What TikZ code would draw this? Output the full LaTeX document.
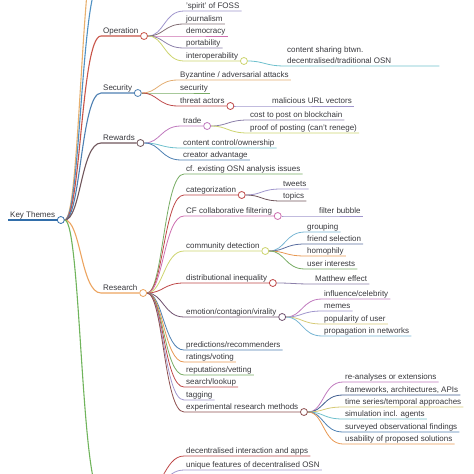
\documentclass[tikz,border=0pt]{standalone}
\usepackage{fontspec}
\setmainfont{Liberation Sans}
\usetikzlibrary{positioning,backgrounds}
\usepackage{xcolor}
\definecolor{inkgray}{RGB}{55,55,60}
\definecolor{rootblue}{RGB}{50,110,170}
\definecolor{topblue}{RGB}{80,145,195}
\definecolor{toporange}{RGB}{232,176,110}
\definecolor{opred}{RGB}{200,84,72}
\definecolor{secblue}{RGB}{78,128,178}
\definecolor{rewbrown}{RGB}{112,86,92}
\definecolor{resorange}{RGB}{236,164,96}
\definecolor{lowgreen}{RGB}{112,180,92}
\definecolor{lavender}{RGB}{160,150,205}
\definecolor{mauve}{RGB}{132,112,118}
\definecolor{pinkish}{RGB}{205,110,175}
\definecolor{greypurple}{RGB}{140,128,170}
\definecolor{limeyellow}{RGB}{205,212,110}
\definecolor{tealish}{RGB}{110,192,205}
\definecolor{tanorange}{RGB}{226,172,112}
\definecolor{leafgreen}{RGB}{120,172,100}
\definecolor{brickred}{RGB}{190,72,72}
\definecolor{slateblue}{RGB}{90,110,160}
\definecolor{skyblue}{RGB}{120,182,212}
\definecolor{darkplum}{RGB}{112,82,112}
\definecolor{rosepurple}{RGB}{192,122,190}
\definecolor{khaki}{RGB}{214,202,118}
\definecolor{navyish}{RGB}{62,92,142}
\definecolor{darkbrick}{RGB}{142,80,80}
\definecolor{orangeish}{RGB}{232,152,82}

\tikzset{
  leaf/.style={anchor=south west,inner xsep=2pt,inner ysep=1pt,text depth=1.8pt,
               font=\fontsize{8}{10.5}\selectfont,text=inkgray},
  dot/.style={circle,draw=#1,fill=white,line width=0.8pt,minimum size=7pt,inner sep=0pt},
  branch/.style={to path={.. controls +(#1,0) and +(-#1,0) .. (\tikztotarget)}},
  branch/.default=20,
  trunk/.style={draw=#1,line width=2.4pt},
  limb/.style={draw=#1,line width=1.1pt},
  twig/.style={draw=#1,line width=0.8pt},
}

\begin{document}
\begin{tikzpicture}[x=1pt,y=-1pt]
  \useasboundingbox (0,0) rectangle (474,474);
  \clip (0,0) rectangle (474,474);

  % root
  \node[leaf] (keyth) at (8,220) {Key Themes};
  \node[dot=rootblue] (keythdot) at ([xshift=3.5pt]keyth.south east) {};

  % neighbours outside the page
  \coordinate (upperA) at (101,-75);
  \coordinate (upperB) at (101,-20);
  \coordinate (lowerA) at (101,495);
  \coordinate (lowerAdot) at (142,495);

  % main topics
  \node[leaf] (oper) at (101,36) {Operation};
  \node[dot=opred] (operdot) at ([xshift=3.5pt]oper.south east) {};
  \node[leaf] (secur) at (101,93) {Security};
  \node[dot=secblue] (securdot) at ([xshift=3.5pt]secur.south east) {};
  \node[leaf] (rewar) at (101,143) {Rewards};
  \node[dot=rewbrown] (rewardot) at ([xshift=3.5pt]rewar.south east) {};
  \node[leaf] (resea) at (101,293) {Research};
  \node[dot=resorange] (reseadot) at ([xshift=3.5pt]resea.south east) {};

  % operation
  \node[leaf] (spirit) at (184,11) {'spirit' of FOSS};
  \node[leaf] (journ) at (184,24) {journalism};
  \node[leaf] (democ) at (184,36) {democracy};
  \node[leaf] (porta) at (184,48) {portability};
  \node[leaf] (inter) at (184,61) {interoperability};
  \node[dot=limeyellow] (interdot) at ([xshift=3.5pt]inter.south east) {};
  \node[leaf] (share) at (285,66)
    {\parbox[b]{150pt}{content sharing btwn.\\decentralised/traditional OSN}};

  % security
  \node[leaf] (byzan) at (178,80) {Byzantine / adversarial attacks};
  \node[leaf] (secu) at (178,93) {security};
  \node[leaf] (threat) at (178,106) {threat actors};
  \node[dot=brickred] (threatdot) at ([xshift=3.5pt]threat.south east) {};
  \node[leaf] (malic) at (270,106) {malicious URL vectors};

  % rewards
  \node[leaf] (trade) at (181,126) {trade};
  \node[dot=rosepurple] (tradedot) at ([xshift=3.5pt]trade.south east) {};
  \node[leaf] (cost) at (248,120) {cost to post on blockchain};
  \node[leaf] (proof) at (248,133) {proof of posting (can't renege)};
  \node[leaf] (contr) at (181,148) {content control/ownership};
  \node[leaf] (creat) at (181,160) {creator advantage};

  % research
  \node[leaf] (cfexi) at (184,174) {cf. existing OSN analysis issues};
  \node[leaf] (categ) at (184,195) {categorization};
  \node[dot=brickred] (categdot) at ([xshift=3.5pt]categ.south east) {};
  \node[leaf] (tweet) at (281,189) {tweets};
  \node[leaf] (topic) at (281,201) {topics};
  \node[leaf] (cfcol) at (184,216) {CF collaborative filtering};
  \node[dot=pinkish] (cfcoldot) at ([xshift=3.5pt]cfcol.south east) {};
  \node[leaf] (bubble) at (317,216) {filter bubble};
  \node[leaf] (commu) at (184,251) {community detection};
  \node[dot=limeyellow] (commudot) at ([xshift=3.5pt]commu.south east) {};
  \node[leaf] (group) at (305,232) {grouping};
  \node[leaf] (friend) at (305,244) {friend selection};
  \node[leaf] (homop) at (305,256) {homophily};
  \node[leaf] (uinter) at (305,269) {user interests};
  \node[leaf] (distr) at (184,283) {distributional inequality};
  \node[dot=brickred] (distrdot) at ([xshift=3.5pt]distr.south east) {};
  \node[leaf] (matth) at (313,284) {Matthew effect};
  \node[leaf] (emoti) at (184,317) {emotion/contagion/virality};
  \node[dot=darkplum] (emotidot) at ([xshift=3.5pt]emoti.south east) {};
  \node[leaf] (influ) at (322,299) {influence/celebrity};
  \node[leaf] (memes) at (322,311) {memes};
  \node[leaf] (popul) at (322,324) {popularity of user};
  \node[leaf] (propa) at (322,336) {propagation in networks};
  \node[leaf] (predi) at (184,350) {predictions/recommenders};
  \node[leaf] (ratin) at (184,362) {ratings/voting};
  \node[leaf] (reput) at (184,375) {reputations/vetting};
  \node[leaf] (searc) at (184,387) {search/lookup};
  \node[leaf] (taggi) at (184,400) {tagging};
  \node[leaf] (exper) at (184,412) {experimental research methods};
  \node[dot=darkbrick] (experdot) at ([xshift=3.5pt]exper.south east) {};
  \node[leaf] (reana) at (343,382) {re-analyses or extensions};
  \node[leaf] (frame) at (343,395) {frameworks, architectures, APIs};
  \node[leaf] (tseri) at (343,407) {time series/temporal approaches};
  \node[leaf] (simul) at (343,419) {simulation incl. agents};
  \node[leaf] (surve) at (343,432) {surveyed observational findings};
  \node[leaf] (usabi) at (343,444) {usability of proposed solutions};

  % lower topic (its head lies below the page)
  \node[leaf] (decin) at (184,456) {decentralised interaction and apps};
  \node[leaf] (uniqu) at (184,470) {unique features of decentralised OSN};

  \begin{scope}[on background layer]
    \draw[trunk=rootblue] (keyth.south west) -- (keythdot);
    \draw[limb=toporange] (keythdot) to[branch] (upperA);
    \draw[limb=topblue] (keythdot) to[branch] (upperB);
    \draw[limb=opred] (keythdot) to[branch] (oper.south west) -- (operdot);
    \draw[limb=secblue] (keythdot) to[branch] (secur.south west) -- (securdot);
    \draw[limb=rewbrown] (keythdot) to[branch] (rewar.south west) -- (rewardot);
    \draw[limb=resorange] (keythdot) to[branch] (resea.south west) -- (reseadot);
    \draw[limb=lowgreen] (keythdot) to[branch] (lowerA);

    \draw[twig=lavender] (operdot) to[branch] (spirit.south west) -- (spirit.south east);
    \draw[twig=mauve] (operdot) to[branch] (journ.south west) -- (journ.south east);
    \draw[twig=pinkish] (operdot) to[branch] (democ.south west) -- (democ.south east);
    \draw[twig=greypurple] (operdot) to[branch] (porta.south west) -- (porta.south east);
    \draw[twig=limeyellow] (operdot) to[branch] (inter.south west) -- (interdot);
    \draw[twig=tealish] (interdot) to[branch] (share.south west) -- (share.south east);

    \draw[twig=tanorange] (securdot) to[branch] (byzan.south west) -- (byzan.south east);
    \draw[twig=leafgreen] (securdot) to[branch] (secu.south west) -- (secu.south east);
    \draw[twig=brickred] (securdot) to[branch] (threat.south west) -- (threatdot);
    \draw[twig=lavender] (threatdot) to[branch] (malic.south west) -- (malic.south east);

    \draw[twig=rosepurple] (rewardot) to[branch] (trade.south west) -- (tradedot);
    \draw[twig=greypurple] (tradedot) to[branch] (cost.south west) -- (cost.south east);
    \draw[twig=limeyellow] (tradedot) to[branch] (proof.south west) -- (proof.south east);
    \draw[twig=tealish] (rewardot) to[branch] (contr.south west) -- (contr.south east);
    \draw[twig=secblue] (rewardot) to[branch] (creat.south west) -- (creat.south east);

    \draw[twig=leafgreen] (reseadot) to[branch] (cfexi.south west) -- (cfexi.south east);
    \draw[twig=brickred] (reseadot) to[branch] (categ.south west) -- (categdot);
    \draw[twig=lavender] (categdot) to[branch] (tweet.south west) -- (tweet.south east);
    \draw[twig=rewbrown] (categdot) to[branch] (topic.south west) -- (topic.south east);
    \draw[twig=pinkish] (reseadot) to[branch] (cfcol.south west) -- (cfcoldot);
    \draw[twig=lavender] (cfcoldot) to[branch] (bubble.south west) -- (bubble.south east);
    \draw[twig=limeyellow] (reseadot) to[branch] (commu.south west) -- (commudot);
    \draw[twig=skyblue] (commudot) to[branch] (group.south west) -- (group.south east);
    \draw[twig=slateblue] (commudot) to[branch] (friend.south west) -- (friend.south east);
    \draw[twig=orangeish] (commudot) to[branch] (homop.south west) -- (homop.south east);
    \draw[twig=leafgreen] (commudot) to[branch] (uinter.south west) -- (uinter.south east);
    \draw[twig=brickred] (reseadot) to[branch] (distr.south west) -- (distrdot);
    \draw[twig=greypurple] (distrdot) to[branch] (matth.south west) -- (matth.south east);
    \draw[twig=darkplum] (reseadot) to[branch] (emoti.south west) -- (emotidot);
    \draw[twig=rosepurple] (emotidot) to[branch] (influ.south west) -- (influ.south east);
    \draw[twig=lavender] (emotidot) to[branch] (memes.south west) -- (memes.south east);
    \draw[twig=khaki] (emotidot) to[branch] (popul.south west) -- (popul.south east);
    \draw[twig=skyblue] (emotidot) to[branch] (propa.south west) -- (propa.south east);
    \draw[twig=secblue] (reseadot) to[branch] (predi.south west) -- (predi.south east);
    \draw[twig=orangeish] (reseadot) to[branch] (ratin.south west) -- (ratin.south east);
    \draw[twig=leafgreen] (reseadot) to[branch] (reput.south west) -- (reput.south east);
    \draw[twig=brickred] (reseadot) to[branch] (searc.south west) -- (searc.south east);
    \draw[twig=lavender] (reseadot) to[branch] (taggi.south west) -- (taggi.south east);
    \draw[twig=darkbrick] (reseadot) to[branch] (exper.south west) -- (experdot);
    \draw[twig=rosepurple] (experdot) to[branch] (reana.south west) -- (reana.south east);
    \draw[twig=navyish] (experdot) to[branch] (frame.south west) -- (frame.south east);
    \draw[twig=khaki] (experdot) to[branch] (tseri.south west) -- (tseri.south east);
    \draw[twig=tealish] (experdot) to[branch] (simul.south west) -- (simul.south east);
    \draw[twig=secblue] (experdot) to[branch] (surve.south west) -- (surve.south east);
    \draw[twig=orangeish] (experdot) to[branch] (usabi.south west) -- (usabi.south east);

    \draw[twig=brickred] (lowerAdot) to[branch] (decin.south west) -- (decin.south east);
    \draw[twig=lavender] (lowerAdot) to[branch] (uniqu.south west) -- (uniqu.south east);
  \end{scope}
\end{tikzpicture}
\end{document}
